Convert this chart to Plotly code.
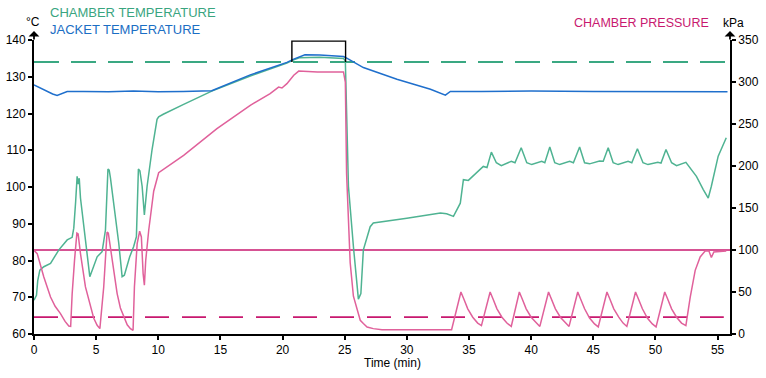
import plotly.graph_objects as go

# ---------------- data ----------------
chamber_time = [0, 0.2, 0.3, 0.47, 0.79, 1.33, 2.0, 2.67, 3.07, 3.2, 3.35, 3.47, 3.56, 3.64, 3.74, 3.95,
                4.13, 4.49, 4.7, 5.08, 5.48, 5.75, 5.95, 6.05, 6.15, 6.41, 6.82, 7.09, 7.27, 7.7,
                8.02, 8.24, 8.4, 8.52, 8.7, 8.88, 9.1, 9.5, 9.9, 10.03, 10.4, 12.04, 14.3, 17.4,
                20.35, 20.9, 21.4, 23.0, 24.9, 25.05, 25.2, 25.3, 25.7, 26.1, 26.3, 26.5, 27.05,
                27.3, 30.0, 32.7, 33.2, 33.75, 34.3, 34.55, 34.95, 35.6, 36.15, 36.45, 36.8, 37.2,
                37.6, 38.4, 38.7, 39.2, 39.65, 40.05, 40.85, 41.1, 41.5, 41.9, 42.3, 43.1, 43.4,
                43.9, 44.3, 44.7, 45.5, 45.8, 46.2, 46.6, 47.0, 47.8, 48.1, 48.55, 49.0, 49.4,
                50.2, 50.45, 50.85, 51.3, 51.7, 52.45, 53.3, 53.85, 54.25, 54.5, 55.05, 55.7]
chamber_temp = [69.2, 70.5, 74.5, 77.4, 78.3, 79.2, 82.9, 85.6, 86.3, 88.8, 96.0, 102.9, 100.8, 102.4, 97.0, 91.0,
                86.5, 75.6, 77.5, 81.0, 82.4, 88.3, 104.9, 104.6, 102.5, 95.6, 84.7, 75.6, 76.0, 81.0,
                83.8, 86.5, 104.9, 104.4, 100.2, 92.4, 100.2, 110.2, 118.4, 119.1, 119.8, 122.5, 126.1, 130.2,
                133.7, 134.6, 135.2, 135.3, 135.0, 134.3, 115.0, 100.2, 83.8, 69.5, 71.0, 82.9, 89.2,
                90.2, 91.5, 92.9, 92.7, 92.0, 95.6, 102.0, 101.8, 104.0, 105.6, 105.3, 109.5, 106.6,
                105.8, 107.0, 106.6, 110.7, 106.6, 106.1, 107.0, 106.6, 110.9, 106.6, 106.1, 107.0, 106.6,
                110.9, 106.6, 106.3, 107.1, 107.0, 110.7, 106.6, 106.1, 107.0, 106.6, 110.4, 106.6, 106.1,
                106.7, 106.5, 110.2, 106.6, 105.8, 106.7, 102.9, 99.3, 97.0, 100.2, 108.4, 113.4]

jacket_time = [0, 0.5, 1.0, 1.5, 1.86, 2.2, 2.67, 4, 6, 8, 10, 12, 14.3, 17.4, 19.0, 20.35, 20.9,
               21.4, 21.8, 23.0, 24.0, 24.9, 25.2, 26.5, 29.2, 31.9, 33.1, 33.5, 36, 40, 45, 50, 55.8]
jacket_temp = [127.8, 126.9, 126.0, 125.3, 124.9, 125.4, 126.0, 126.0, 125.9, 126.1, 125.9, 126.0, 126.2,
               130.5, 132.3, 133.9, 134.8, 135.5, 136.0, 135.9, 135.7, 135.5, 135.0, 132.5, 129.3, 126.6,
               125.0, 126.0, 126.0, 126.1, 126.0, 126.0, 125.9]

pressure_time = [0, 0.26, 0.79, 1.33, 1.7, 2.13, 2.5, 2.8, 2.95, 3.07, 3.26, 3.45, 3.55, 3.74, 4.14, 4.54,
                 4.8, 5.08, 5.3, 5.61, 5.88, 5.98, 6.28, 6.45, 6.69, 6.95, 7.22, 7.5, 7.76, 7.97, 8.08,
                 8.3, 8.5, 8.64, 8.78, 8.88, 8.99, 9.23, 9.63, 10.03, 12.04, 14.72, 17.4, 19.0, 19.68,
                 19.95, 20.35, 20.9, 21.3, 22.8, 24.9, 25.05, 25.15, 25.3, 25.44, 25.7, 25.98, 26.25,
                 26.5, 26.8, 27.3, 28.0, 33.6,
                 34.35, 34.6, 34.9, 35.3, 35.7, 36.0,
                 36.7, 36.95, 37.25, 37.65, 38.05, 38.4,
                 39.05, 39.3, 39.6, 40.0, 40.4, 40.7,
                 41.4, 41.65, 41.95, 42.35, 42.75, 43.05,
                 43.75, 44.0, 44.3, 44.7, 45.1, 45.4,
                 46.1, 46.35, 46.65, 47.05, 47.4, 47.7,
                 48.4, 48.65, 48.95, 49.35, 49.75, 50.05,
                 50.75, 51.0, 51.3, 51.7, 52.1, 52.45,
                 52.8, 53.2, 53.6, 54.0, 54.3, 54.5, 54.7, 55.7]
pressure_kpa = [99.6, 95.7, 67.9, 44.0, 33.0, 24.3, 15.0, 9.5, 9.0, 48.0, 87.7, 120.0, 119.0, 95.7, 56.0, 32.1,
                19.0, 10.4, 6.4, 56.0, 121.4, 120.0, 87.7, 68.0, 48.1, 31.0, 20.2, 11.0, 6.4, 4.4, 56.0,
                107.6, 122.3, 115.5, 71.9, 58.0, 87.7, 123.5, 170.0, 192.0, 212.7, 244.5, 272.3, 286.2, 294.0,
                292.9, 298.0, 308.0, 313.0, 312.0, 312.0, 300.0, 191.0, 125.0, 85.0, 45.0, 30.0, 16.3,
                12.4, 8.3, 6.4, 5.2, 5.2,
                50, 41, 30, 20, 13, 10,
                50, 41, 30, 20, 13, 9,
                50, 41, 30, 20, 13, 9,
                50, 41, 30, 20, 13, 9,
                50, 41, 30, 19, 12, 8.5,
                50, 41, 30, 20, 13, 9,
                50, 41, 30, 19, 12, 8.5,
                50, 41, 30, 20, 13, 10,
                44.0, 75.8, 91.7, 98.8, 99.0, 91.0, 97.6, 98.8]

time_ticks = [0, 5, 10, 15, 20, 25, 30, 35, 40, 45, 50, 55]
temp_ticks = [60, 70, 80, 90, 100, 110, 120, 130, 140]
pressure_ticks = [0, 50, 100, 150, 200, 250, 300, 350]

temp_setpoint = 134        # green dashed line (°C)
pressure_ref = 100         # magenta solid line (kPa)
pressure_low = 20          # magenta dashed line (kPa)
hold_start, hold_end, hold_top = 20.75, 25.07, 139.7   # black bracket

# ---------------- styling ----------------
GREEN = "#4fb392"
GREEN_TXT = "#3aa57f"
BLUE = "#1f6fcc"
BLUE_TXT = "#1b6ec4"
PINK = "#e0619b"
MAGENTA = "#c8186f"
FONT = "Liberation Sans, Arial, sans-serif"

W, H = 766, 378
ML, MR, MT, MB = 34, 36, 40, 44
PW, PH = W - ML - MR, H - MT - MB


def px(x):  # page pixel x -> paper
    return (x - ML) / PW


def py(y):  # page pixel y -> paper
    return (H - MB - y) / PH


fig = go.Figure()

fig.add_trace(go.Scatter(x=pressure_time, y=pressure_kpa, mode="lines", yaxis="y2",
                         line=dict(color=PINK, width=1.5), hoverinfo="skip", showlegend=False))
fig.add_trace(go.Scatter(x=chamber_time, y=chamber_temp, mode="lines",
                         line=dict(color=GREEN, width=1.5), hoverinfo="skip", showlegend=False))
fig.add_trace(go.Scatter(x=jacket_time, y=jacket_temp, mode="lines",
                         line=dict(color=BLUE, width=1.5), hoverinfo="skip", showlegend=False))

shapes = [
    dict(type="line", xref="x", yref="y", x0=0, x1=55.6, y0=temp_setpoint, y1=temp_setpoint,
         line=dict(color="#3aa882", width=2, dash="25px,12px"), layer="below"),
    dict(type="line", xref="x", yref="y2", x0=0, x1=56, y0=pressure_ref, y1=pressure_ref,
         line=dict(color=MAGENTA, width=1.6), layer="below"),
    dict(type="line", xref="x", yref="y2", x0=0, x1=55.5, y0=pressure_low, y1=pressure_low,
         line=dict(color=MAGENTA, width=1.8, dash="24px,13px"), layer="below"),
    dict(type="path", xref="x", yref="y",
         path=f"M {hold_start},{temp_setpoint} L {hold_start},{hold_top} L {hold_end},{hold_top} L {hold_end},{temp_setpoint}",
         line=dict(color="black", width=1.4)),
]

ann = [
    dict(x=px(48), y=py(12.5), text="CHAMBER TEMPERATURE", xanchor="left", yanchor="middle",
         font=dict(color=GREEN_TXT, size=13)),
    dict(x=px(48), y=py(30), text="JACKET TEMPERATURE", xanchor="left", yanchor="middle",
         font=dict(color=BLUE_TXT, size=13)),
    dict(x=px(33), y=py(22), text="°C", xanchor="center", yanchor="middle",
         font=dict(color="black", size=12)),
    dict(x=px(711), y=py(23), text="CHAMBER PRESSURE", xanchor="right", yanchor="middle",
         font=dict(color=MAGENTA, size=12.5)),
    dict(x=px(721), y=py(23), text="kPa", xanchor="left", yanchor="middle",
         font=dict(color="black", size=12)),
    dict(x=px(392), y=py(363), text="Time (min)", xanchor="center", yanchor="middle",
         font=dict(color="black", size=12)),
    # axis arrows
    dict(x=0, y=py(31), ax=0, ay=10, showarrow=True, arrowhead=1, arrowsize=1, arrowwidth=1.8,
         arrowcolor="black", text=""),
    dict(x=1, y=py(31), ax=0, ay=10, showarrow=True, arrowhead=1, arrowsize=1, arrowwidth=1.8,
         arrowcolor="black", text=""),
]
for a in ann:
    a.setdefault("xref", "paper")
    a.setdefault("yref", "paper")
    a.setdefault("showarrow", False)
    if a.get("showarrow"):
        a["axref"] = "pixel"
        a["ayref"] = "pixel"

axis_common = dict(showgrid=False, zeroline=False, showline=True, linecolor="black", linewidth=1.8,
                   ticks="outside", ticklen=4, tickwidth=1.5, tickcolor="black", automargin=False,
                   tickfont=dict(size=12, color="black", family=FONT))

fig.update_layout(
    width=W, height=H,
    margin=dict(l=ML, r=MR, t=MT, b=MB, pad=0, autoexpand=False),
    paper_bgcolor="white", plot_bgcolor="white",
    font=dict(family=FONT, color="black"),
    showlegend=False,
    xaxis=dict(range=[0, 56], tickvals=time_ticks, **axis_common),
    yaxis=dict(range=[60, 140], tickvals=temp_ticks, **axis_common),
    yaxis2=dict(range=[0, 350], tickvals=pressure_ticks, overlaying="y", side="right",
                anchor="x", **axis_common),
    shapes=shapes,
    annotations=ann,
)

fig.write_html("out.html", config={"displayModeBar": False},
               post_script="document.body.style.margin='0px';document.body.style.overflow='hidden';")
